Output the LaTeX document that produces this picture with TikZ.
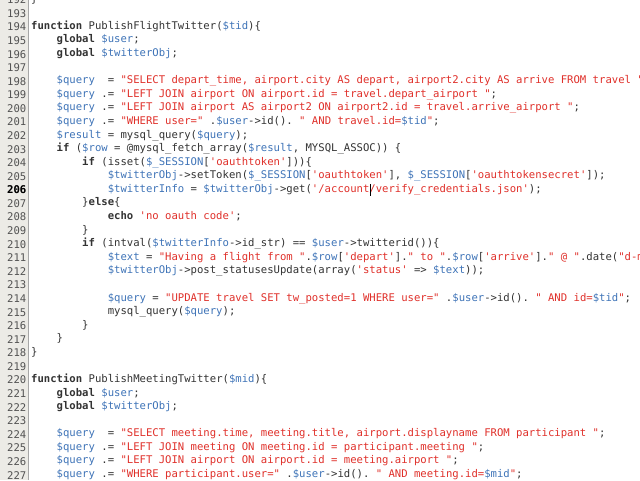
\documentclass[tikz,border=0pt]{standalone}
\usepackage{fontspec}
\setmonofont{DejaVu Sans Mono}
\definecolor{vblue}{HTML}{3F74B8}
\definecolor{sred}{HTML}{E0302A}
\definecolor{ctext}{HTML}{333333}
\definecolor{gutter}{HTML}{ECEBE6}
\newcommand\kw[1]{\textbf{#1}}
\newcommand\vr[1]{\textcolor{vblue}{#1}}
\newcommand\st[1]{\textcolor{sred}{#1}}
\tikzset{
  lnum/.style={anchor=east,inner sep=0,font=\ttfamily\fontsize{10.6}{12}\selectfont,text=ctext!85},
  code/.style={anchor=west,inner sep=0,font=\ttfamily\fontsize{10.6}{12}\selectfont,text=ctext},
}
\newcommand\cl[3]{%
  \node[lnum] (n#1) at (26.5pt,{(480-(27+(#1-194)*13.58))*1pt}) {#1};
  \node[code] (c#1) at ({(31+#2*6.38)*1pt},{(480-(27+(#1-194)*13.58))*1pt}) {\strut #3};}
\newcommand\el[1]{%
  \node[lnum] (n#1) at (26.5pt,{(480-(27+(#1-194)*13.58))*1pt}) {#1};}
\begin{document}
\begin{tikzpicture}[x=1pt,y=1pt]
\useasboundingbox (0,0) rectangle (640,480);
\clip (0,0) rectangle (640,480);
\fill[white] (0,0) rectangle (640,480);
\fill[gutter] (0,0) rectangle (28,480);
\draw[gray!70,line width=0.6pt] (28,0) -- (28,480);
\cl{192}{0}{\}}
\el{193}
\cl{194}{0}{\kw{function} PublishFlightTwitter(\vr{\$tid})\{}
\cl{195}{4}{\kw{global} \vr{\$user};}
\cl{196}{4}{\kw{global} \vr{\$twitterObj};}
\el{197}
\cl{198}{4}{\vr{\$query}\ \ = \st{"SELECT depart\_time, airport.city AS depart, airport2.city AS arrive FROM travel "};}
\cl{199}{4}{\vr{\$query} .= \st{"LEFT JOIN airport ON airport.id = travel.depart\_airport "};}
\cl{200}{4}{\vr{\$query} .= \st{"LEFT JOIN airport AS airport2 ON airport2.id = travel.arrive\_airport "};}
\cl{201}{4}{\vr{\$query} .= \st{"WHERE user="} .\vr{\$user}->id(). \st{" AND travel.id=}\vr{\$tid}\st{"};}
\cl{202}{4}{\vr{\$result} = mysql\_query(\vr{\$query});}
\cl{203}{4}{\kw{if} (\vr{\$row} = @mysql\_fetch\_array(\vr{\$result}, MYSQL\_ASSOC)) \{}
\cl{204}{8}{\kw{if} (isset(\vr{\$\_SESSION}[\st{'oauthtoken'}]))\{}
\cl{205}{12}{\vr{\$twitterObj}->setToken(\vr{\$\_SESSION}[\st{'oauthtoken'}], \vr{\$\_SESSION}[\st{'oauthtokensecret'}]);}
\cl{206}{12}{\vr{\$twitterInfo} = \vr{\$twitterObj}->get(\st{'/account/verify\_credentials.json'});}
\node[lnum,text=black,font=\ttfamily\bfseries\fontsize{10.6}{12}\selectfont] at (n206.east) {206};
\cl{207}{8}{\}\kw{else}\{}
\cl{208}{12}{\kw{echo} \st{'no oauth code'};}
\cl{209}{8}{\}}
\cl{210}{8}{\kw{if} (intval(\vr{\$twitterInfo}->id\_str) == \vr{\$user}->twitterid())\{}
\cl{211}{12}{\vr{\$text} = \st{"Having a flight from "}.\vr{\$row}[\st{'depart'}].\st{" to "}.\vr{\$row}[\st{'arrive'}].\st{" @ "}.date(\st{"d-m-Y H:i"}}
\cl{212}{12}{\vr{\$twitterObj}->post\_statusesUpdate(array(\st{'status'} => \vr{\$text}));}
\el{213}
\cl{214}{12}{\vr{\$query} = \st{"UPDATE travel SET tw\_posted=1 WHERE user="} .\vr{\$user}->id(). \st{" AND id=}\vr{\$tid}\st{"};}
\cl{215}{12}{mysql\_query(\vr{\$query});}
\cl{216}{8}{\}}
\cl{217}{4}{\}}
\cl{218}{0}{\}}
\el{219}
\cl{220}{0}{\kw{function} PublishMeetingTwitter(\vr{\$mid})\{}
\cl{221}{4}{\kw{global} \vr{\$user};}
\cl{222}{4}{\kw{global} \vr{\$twitterObj};}
\el{223}
\cl{224}{4}{\vr{\$query}\ \ = \st{"SELECT meeting.time, meeting.title, airport.displayname FROM participant "};}
\cl{225}{4}{\vr{\$query} .= \st{"LEFT JOIN meeting ON meeting.id = participant.meeting "};}
\cl{226}{4}{\vr{\$query} .= \st{"LEFT JOIN airport ON airport.id = meeting.airport "};}
\cl{227}{4}{\vr{\$query} .= \st{"WHERE participant.user="} .\vr{\$user}->id(). \st{" AND meeting.id=}\vr{\$mid}\st{"};}
\coordinate (cur) at (370,{480-(27+12*13.58)});
\draw[black,line width=0.7pt] ([yshift=-6]cur) -- ([yshift=6]cur);
\end{tikzpicture}
\end{document}
